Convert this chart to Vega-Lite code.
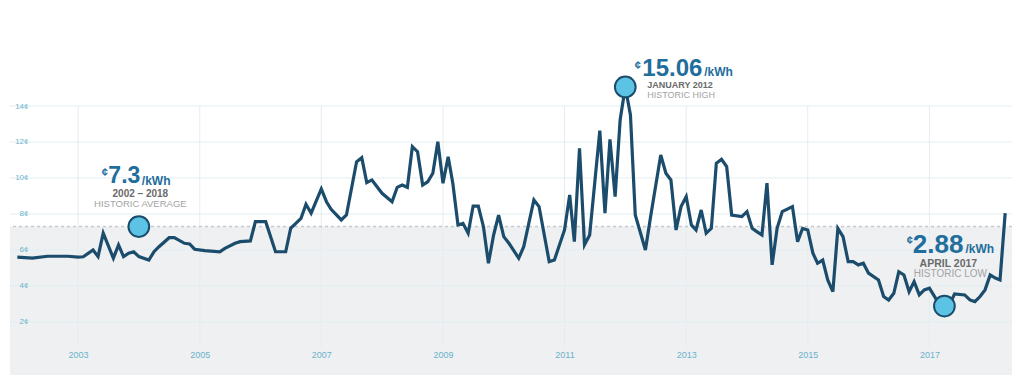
{
  "$schema": "https://vega.github.io/schema/vega-lite/v6.json",
  "width": 1002,
  "height": 269,
  "autosize": {"type": "none"},
  "padding": {"left": 10, "top": 106, "right": 12, "bottom": 12},
  "background": "#ffffff",
  "config": {
    "view": {"stroke": null},
    "font": "Liberation Sans",
    "text": {"font": "Liberation Sans"},
    "axis": {"grid": false, "ticks": false, "domain": false, "zindex": 2, "labelColor": "#6cb2cb", "labelFont": "Liberation Sans", "labelFlush": false, "labelOverlap": false}
  },
  "datasets": {
    "prices": [
      {"date": "2002-01-01", "value": 5.6}, {"date": "2002-04-01", "value": 5.55}, {"date": "2002-07-01", "value": 5.65}, {"date": "2002-11-01", "value": 5.65},
      {"date": "2003-01-01", "value": 5.6}, {"date": "2003-02-01", "value": 5.62}, {"date": "2003-04-01", "value": 6.0}, {"date": "2003-05-01", "value": 5.63},
      {"date": "2003-06-01", "value": 6.93}, {"date": "2003-08-01", "value": 5.54}, {"date": "2003-09-01", "value": 6.28}, {"date": "2003-10-01", "value": 5.63},
      {"date": "2003-11-01", "value": 5.82}, {"date": "2003-12-01", "value": 5.9}, {"date": "2004-01-01", "value": 5.63}, {"date": "2004-03-01", "value": 5.44},
      {"date": "2004-04-01", "value": 5.9}, {"date": "2004-05-01", "value": 6.18}, {"date": "2004-07-01", "value": 6.68}, {"date": "2004-08-01", "value": 6.68},
      {"date": "2004-10-01", "value": 6.37}, {"date": "2004-11-01", "value": 6.33}, {"date": "2004-12-01", "value": 6.04}, {"date": "2005-02-01", "value": 5.96},
      {"date": "2005-05-01", "value": 5.9}, {"date": "2005-06-01", "value": 6.09}, {"date": "2005-08-01", "value": 6.37}, {"date": "2005-09-01", "value": 6.46},
      {"date": "2005-11-01", "value": 6.5}, {"date": "2005-12-01", "value": 7.57}, {"date": "2006-02-01", "value": 7.57}, {"date": "2006-04-01", "value": 5.9},
      {"date": "2006-06-01", "value": 5.9}, {"date": "2006-07-01", "value": 7.2}, {"date": "2006-08-01", "value": 7.48}, {"date": "2006-09-01", "value": 7.76},
      {"date": "2006-10-01", "value": 8.54}, {"date": "2006-11-01", "value": 8.04}, {"date": "2007-01-01", "value": 9.39}, {"date": "2007-02-01", "value": 8.68},
      {"date": "2007-03-01", "value": 8.26}, {"date": "2007-05-01", "value": 7.67}, {"date": "2007-06-01", "value": 7.94}, {"date": "2007-08-01", "value": 10.9},
      {"date": "2007-09-01", "value": 11.13}, {"date": "2007-10-01", "value": 9.74}, {"date": "2007-11-01", "value": 9.89}, {"date": "2008-01-01", "value": 9.15},
      {"date": "2008-03-01", "value": 8.68}, {"date": "2008-04-01", "value": 9.48}, {"date": "2008-05-01", "value": 9.61}, {"date": "2008-06-01", "value": 9.48},
      {"date": "2008-07-01", "value": 11.74}, {"date": "2008-08-01", "value": 11.46}, {"date": "2008-09-01", "value": 9.61}, {"date": "2008-10-01", "value": 9.79},
      {"date": "2008-11-01", "value": 10.26}, {"date": "2008-12-01", "value": 12.02}, {"date": "2009-01-01", "value": 9.71}, {"date": "2009-02-01", "value": 11.18},
      {"date": "2009-03-01", "value": 9.71}, {"date": "2009-04-01", "value": 7.39}, {"date": "2009-05-01", "value": 7.48}, {"date": "2009-06-01", "value": 6.93},
      {"date": "2009-07-01", "value": 8.44}, {"date": "2009-08-01", "value": 8.44}, {"date": "2009-09-01", "value": 7.29}, {"date": "2009-10-01", "value": 5.26},
      {"date": "2009-11-01", "value": 6.83}, {"date": "2009-12-01", "value": 7.94}, {"date": "2010-01-01", "value": 6.74}, {"date": "2010-02-01", "value": 6.37},
      {"date": "2010-04-01", "value": 5.54}, {"date": "2010-05-01", "value": 6.18}, {"date": "2010-07-01", "value": 8.78}, {"date": "2010-08-01", "value": 8.41},
      {"date": "2010-10-01", "value": 5.35}, {"date": "2010-11-01", "value": 5.44}, {"date": "2011-01-01", "value": 7.11}, {"date": "2011-02-01", "value": 9.06},
      {"date": "2011-03-01", "value": 6.46}, {"date": "2011-04-01", "value": 11.65}, {"date": "2011-05-01", "value": 6.28}, {"date": "2011-06-01", "value": 6.83},
      {"date": "2011-08-01", "value": 12.63}, {"date": "2011-09-01", "value": 8.04}, {"date": "2011-10-01", "value": 12.15}, {"date": "2011-11-01", "value": 8.96},
      {"date": "2011-12-01", "value": 13.22}, {"date": "2012-01-01", "value": 15.06}, {"date": "2012-02-01", "value": 13.5}, {"date": "2012-03-01", "value": 7.94},
      {"date": "2012-05-01", "value": 6.0}, {"date": "2012-06-01", "value": 7.85}, {"date": "2012-08-01", "value": 11.28}, {"date": "2012-09-01", "value": 10.26},
      {"date": "2012-10-01", "value": 9.89}, {"date": "2012-11-01", "value": 7.11}, {"date": "2012-12-01", "value": 8.41}, {"date": "2013-01-01", "value": 8.96},
      {"date": "2013-02-01", "value": 7.39}, {"date": "2013-03-01", "value": 7.11}, {"date": "2013-04-01", "value": 8.22}, {"date": "2013-05-01", "value": 6.93},
      {"date": "2013-06-01", "value": 7.2}, {"date": "2013-07-01", "value": 10.82}, {"date": "2013-08-01", "value": 11.04}, {"date": "2013-09-01", "value": 10.63},
      {"date": "2013-10-01", "value": 7.94}, {"date": "2013-12-01", "value": 7.85}, {"date": "2014-01-01", "value": 8.13}, {"date": "2014-02-01", "value": 7.2},
      {"date": "2014-03-01", "value": 7.02}, {"date": "2014-04-01", "value": 6.83}, {"date": "2014-05-01", "value": 9.71}, {"date": "2014-06-01", "value": 5.17},
      {"date": "2014-07-01", "value": 7.2}, {"date": "2014-08-01", "value": 8.13}, {"date": "2014-10-01", "value": 8.41}, {"date": "2014-11-01", "value": 6.46},
      {"date": "2014-12-01", "value": 7.2}, {"date": "2015-01-01", "value": 7.11}, {"date": "2015-02-01", "value": 5.82}, {"date": "2015-03-01", "value": 5.26},
      {"date": "2015-04-01", "value": 5.44}, {"date": "2015-05-01", "value": 4.33}, {"date": "2015-06-01", "value": 3.68}, {"date": "2015-07-01", "value": 7.2},
      {"date": "2015-08-01", "value": 6.74}, {"date": "2015-09-01", "value": 5.35}, {"date": "2015-10-01", "value": 5.35}, {"date": "2015-11-01", "value": 5.17},
      {"date": "2015-12-01", "value": 5.26}, {"date": "2016-01-01", "value": 4.71}, {"date": "2016-03-01", "value": 4.33}, {"date": "2016-04-01", "value": 3.41},
      {"date": "2016-05-01", "value": 3.22}, {"date": "2016-06-01", "value": 3.59}, {"date": "2016-07-01", "value": 4.79}, {"date": "2016-08-01", "value": 4.61},
      {"date": "2016-09-01", "value": 3.68}, {"date": "2016-10-01", "value": 4.24}, {"date": "2016-11-01", "value": 3.5}, {"date": "2016-12-01", "value": 3.78},
      {"date": "2017-01-01", "value": 3.87}, {"date": "2017-02-01", "value": 3.41}, {"date": "2017-03-01", "value": 2.94}, {"date": "2017-04-01", "value": 2.88},
      {"date": "2017-05-01", "value": 2.94}, {"date": "2017-06-01", "value": 3.56}, {"date": "2017-08-01", "value": 3.5}, {"date": "2017-09-01", "value": 3.22},
      {"date": "2017-10-01", "value": 3.13}, {"date": "2017-11-01", "value": 3.41}, {"date": "2017-12-01", "value": 3.78}, {"date": "2018-01-01", "value": 4.61},
      {"date": "2018-02-01", "value": 4.44}, {"date": "2018-03-01", "value": 4.33}, {"date": "2018-04-01", "value": 8.04}
    ],
    "annotations": [
      {"key": "avg", "date": "2004-01-01", "value": 7.3, "price": "7.3", "period": "2002 – 2018", "note": "HISTORIC AVERAGE"},
      {"key": "high", "date": "2012-01-01", "value": 15.06, "price": "15.06", "period": "JANUARY 2012", "note": "HISTORIC HIGH"},
      {"key": "low", "date": "2017-04-01", "value": 2.88, "price": "2.88", "period": "APRIL 2017", "note": "HISTORIC LOW"}
    ],
    "average": [{"value": 7.3}],
    "xgrid": [{"date": "2003-01-01"}, {"date": "2005-01-01"}, {"date": "2007-01-01"}, {"date": "2009-01-01"}, {"date": "2011-01-01"}, {"date": "2013-01-01"}, {"date": "2015-01-01"}, {"date": "2017-01-01"}],
    "ygrid": [{"value": 2}, {"value": 4}, {"value": 6}, {"value": 8}, {"value": 10}, {"value": 12}, {"value": 14}]
  },
  "layer": [
    {
      "data": {"name": "average"},
      "mark": {"type": "rect", "color": "#eef0f2", "x": 0, "x2": "width"},
      "encoding": {
        "y": {"field": "value", "type": "quantitative", "title": null, "scale": {"domain": [-0.95, 14], "nice": false, "zero": false}},
        "y2": {"datum": -0.95}
      }
    },
    {
      "data": {"name": "ygrid"},
      "mark": {"type": "rule", "color": "#e3edf1", "strokeWidth": 1},
      "encoding": {
        "y": {"field": "value", "type": "quantitative", "title": null, "scale": {"domain": [-0.95, 14], "nice": false, "zero": false}}
      }
    },
    {
      "data": {"name": "xgrid"},
      "mark": {"type": "rule", "color": "#e3edf1", "strokeWidth": 1},
      "encoding": {
        "x": {"field": "date", "type": "temporal", "title": null, "scale": {"type": "utc", "domain": [{"year": 2001, "month": 11, "date": 18, "utc": true}, {"year": 2018, "month": 5, "date": 12, "utc": true}]}},
        "y": {"datum": 14, "type": "quantitative", "title": null, "scale": {"domain": [-0.95, 14], "nice": false, "zero": false}},
        "y2": {"datum": 0.6}
      }
    },
    {
      "data": {"name": "average"},
      "mark": {"type": "rule", "color": "#c6cacd", "strokeWidth": 1.5, "strokeDash": [3, 3]},
      "encoding": {
        "y": {"field": "value", "type": "quantitative", "title": null, "scale": {"domain": [-0.95, 14], "nice": false, "zero": false}}
      }
    },
    {
      "data": {"name": "prices"},
      "mark": {"type": "line", "color": "#1c4c6c", "strokeWidth": 3.2, "clip": false},
      "encoding": {
        "x": {"field": "date", "type": "temporal", "title": null, "scale": {"type": "utc", "domain": [{"year": 2001, "month": 11, "date": 18, "utc": true}, {"year": 2018, "month": 5, "date": 12, "utc": true}]},
          "axis": {"values": [{"year": 2003, "utc": true}, {"year": 2005, "utc": true}, {"year": 2007, "utc": true}, {"year": 2009, "utc": true}, {"year": 2011, "utc": true}, {"year": 2013, "utc": true}, {"year": 2015, "utc": true}, {"year": 2017, "utc": true}],
            "format": "%Y", "title": null, "zindex": 3, "labelPadding": -25, "labelBaseline": "top", "labelFontSize": 9}},
        "y": {"field": "value", "type": "quantitative", "title": null, "scale": {"domain": [-0.95, 14], "nice": false, "zero": false},
          "axis": {"values": [2, 4, 6, 8, 10, 12, 14], "labelExpr": "datum.label + '¢'", "title": null, "zindex": 3, "labelPadding": -18, "labelAlign": "right", "labelFontSize": 8}}
      }
    },
    {
      "data": {"name": "annotations"},
      "mark": {"type": "point", "filled": true, "fill": "#5cc3e4", "stroke": "#1c4c6c", "strokeWidth": 2, "size": 430, "opacity": 1, "clip": false},
      "encoding": {
        "x": {"field": "date", "type": "temporal", "title": null},
        "y": {"field": "value", "type": "quantitative", "title": null}
      }
    },
    {
      "data": {"name": "annotations"},
      "transform": [{"filter": "datum.key === 'avg'"}],
      "encoding": {
        "x": {"field": "date", "type": "temporal", "title": null},
        "y": {"field": "value", "type": "quantitative", "title": null}
      },
      "layer": [
        {"mark": {"type": "text", "text": "¢", "fontSize": 11, "fontWeight": "bold", "color": "#1f6e9c", "align": "center", "baseline": "alphabetic", "dx": -34, "dy": -51}},
        {"mark": {"type": "text", "fontSize": 23, "fontWeight": "bold", "color": "#1f6e9c", "align": "right", "baseline": "alphabetic", "dx": 1.5, "dy": -43.6}, "encoding": {"text": {"field": "price"}}},
        {"mark": {"type": "text", "text": "/kWh", "fontSize": 12, "fontWeight": "bold", "color": "#1f6e9c", "align": "left", "baseline": "alphabetic", "dx": 3, "dy": -42}},
        {"mark": {"type": "text", "fontSize": 10, "fontWeight": "bold", "color": "#6a6a6a", "align": "center", "baseline": "alphabetic", "dx": 1.5, "dy": -29.6}, "encoding": {"text": {"field": "period"}}},
        {"mark": {"type": "text", "fontSize": 9.5, "color": "#a3a3a3", "align": "center", "baseline": "alphabetic", "dx": 1.5, "dy": -19.6}, "encoding": {"text": {"field": "note"}}}
      ]
    },
    {
      "data": {"name": "annotations"},
      "transform": [{"filter": "datum.key === 'high'"}],
      "encoding": {
        "x": {"field": "date", "type": "temporal", "title": null},
        "y": {"field": "value", "type": "quantitative", "title": null}
      },
      "layer": [
        {"mark": {"type": "text", "text": "¢", "fontSize": 11, "fontWeight": "bold", "color": "#1f6e9c", "align": "center", "baseline": "alphabetic", "dx": 12.5, "dy": -18}},
        {"mark": {"type": "text", "fontSize": 24, "fontWeight": "bold", "color": "#1f6e9c", "align": "left", "baseline": "alphabetic", "dx": 17, "dy": -10.5}, "encoding": {"text": {"field": "price"}}},
        {"mark": {"type": "text", "text": "/kWh", "fontSize": 12, "fontWeight": "bold", "color": "#1f6e9c", "align": "left", "baseline": "alphabetic", "dx": 79, "dy": -10.5}},
        {"mark": {"type": "text", "fontSize": 9, "fontWeight": "bold", "color": "#6a6a6a", "align": "left", "baseline": "alphabetic", "dx": 22, "dy": 1.5}, "encoding": {"text": {"field": "period"}}},
        {"mark": {"type": "text", "fontSize": 9, "color": "#a3a3a3", "align": "left", "baseline": "alphabetic", "dx": 22, "dy": 11}, "encoding": {"text": {"field": "note"}}}
      ]
    },
    {
      "data": {"name": "annotations"},
      "transform": [{"filter": "datum.key === 'low'"}],
      "encoding": {
        "x": {"field": "date", "type": "temporal", "title": null},
        "y": {"field": "value", "type": "quantitative", "title": null}
      },
      "layer": [
        {"mark": {"type": "text", "text": "¢", "fontSize": 11, "fontWeight": "bold", "color": "#1f6e9c", "align": "center", "baseline": "alphabetic", "dx": -34.5, "dy": -62}},
        {"mark": {"type": "text", "fontSize": 26, "fontWeight": "bold", "color": "#1f6e9c", "align": "right", "baseline": "alphabetic", "dx": 19, "dy": -53}, "encoding": {"text": {"field": "price"}}},
        {"mark": {"type": "text", "text": "/kWh", "fontSize": 12, "fontWeight": "bold", "color": "#1f6e9c", "align": "left", "baseline": "alphabetic", "dx": 21, "dy": -53}},
        {"mark": {"type": "text", "fontSize": 10.5, "fontWeight": "bold", "color": "#6a6a6a", "align": "center", "baseline": "alphabetic", "dx": 4, "dy": -39}, "encoding": {"text": {"field": "period"}}},
        {"mark": {"type": "text", "fontSize": 10, "color": "#a3a3a3", "align": "center", "baseline": "alphabetic", "dx": 6, "dy": -29}, "encoding": {"text": {"field": "note"}}}
      ]
    }
  ]
}
